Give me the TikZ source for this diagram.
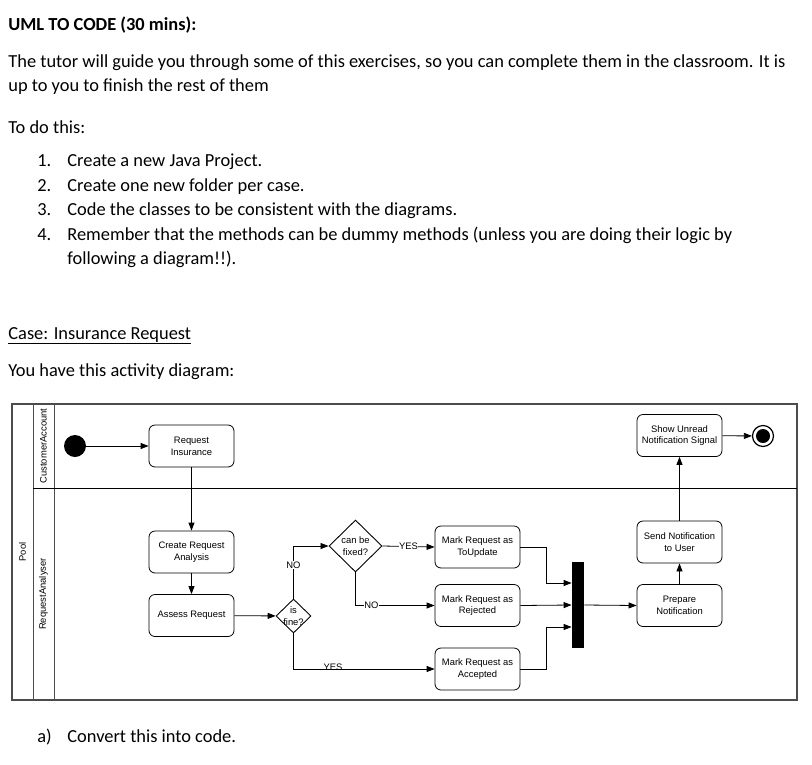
\documentclass[tikz,border=0pt]{standalone}
\usepackage{fontspec}
\setmainfont{Carlito}
\newfontfamily\arialf{Liberation Sans}
\usetikzlibrary{arrows.meta,shapes.geometric}
\tikzset{
  body/.style={anchor=base west, inner sep=0, font=\fontsize{18.4}{22}\selectfont},
  act/.style={draw, rounded corners=6pt, minimum width=85pt, minimum height=42pt, align=center, inner sep=0, font=\arialf\fontsize{9.4}{11.7}\selectfont},
  dia/.style={draw, diamond, inner sep=0, line width=0.9pt},
  small/.style={font=\arialf\fontsize{9.4}{11.7}\selectfont, align=center, inner sep=1pt},
  lbl/.style={font=\arialf\fontsize{9.4}{11}\selectfont, inner sep=0.5pt},
  flow/.style={-{Triangle[length=8pt,width=6pt]}, line width=0.8pt},
  lane/.style={font=\arialf\fontsize{9.4}{11}\selectfont, rotate=90, inner sep=0},
}
\begin{document}
\begin{tikzpicture}[x=1pt,y=-1pt, line width=0.8pt]
\useasboundingbox (0,0) rectangle (812,764);
% text
\node[body, font=\bfseries\fontsize{18.4}{22}\selectfont] (title) at (8,30) {UML TO CODE (30 mins):};
\node[body] (p1) at (8,67) {The tutor will guide you through some of this exercises, so you can complete them in the classroom. It is};
\node[body] (p2) at (8,91) {up to you to finish the rest of them};
\node[body] (todo) at (8,133) {To do this:};
\node[body] (n1) at (37,166) {1.};
\node[body] (t1) at (67,166) {Create a new Java Project.};
\node[body] (n2) at (37,191) {2.};
\node[body] (t2) at (67,191) {Create one new folder per case.};
\node[body] (n3) at (37,215) {3.};
\node[body] (t3) at (67,215) {Code the classes to be consistent with the diagrams.};
\node[body] (n4) at (37,240) {4.};
\node[body] (t4) at (67,240) {Remember that the methods can be dummy methods (unless you are doing their logic by};
\node[body] (t4b) at (67,264) {following a diagram!!).};
\node[body] (case) at (8,339) {\underline{Case: Insurance Request}};
\node[body] (have) at (8,376) {You have this activity diagram:};
\node[body] (na) at (37,742) {a)};
\node[body] (ta) at (67,742) {Convert this into code.};
% frame
\draw[line width=1.2pt, draw=black!70] (12,404) rectangle (797,700);
\draw[line width=1pt, draw=black!70] (33,404) -- (33,700);
\draw[line width=1pt, draw=black!70] (54,404) -- (54,700);
\draw[line width=0.8pt] (33,488) -- (797,488);
\node[lane] (pool) at (22.5,552) {Pool};
\node[lane] (ca) at (43.5,446) {CustomerAccount};
\node[lane] (ra) at (43.5,594) {RequestAnalyser};
% nodes
\node[circle, fill=black, minimum size=22pt, inner sep=0] (init) at (75,446) {};
\node[act] (reqins) at (191.5,446) {Request\\Insurance};
\node[act] (create) at (191.5,552) {Create Request\\Analysis};
\node[act] (assess) at (191.5,615.5) {Assess Request};
\node[dia, minimum width=35pt, minimum height=34pt] (isfine) at (293.5,616) {};
\node[small] (isfinet) at (isfine) {is\\fine?};
\node[dia, minimum width=53pt, minimum height=52pt] (fix) at (355.5,546) {};
\node[small] (fixt) at (fix) {can be\\fixed?};
\node[act] (toupd) at (477.5,547) {Mark Request as\\ToUpdate};
\node[act] (rej) at (477.5,605.5) {Mark Request as\\Rejected};
\node[act] (acc) at (477.5,669) {Mark Request as\\Accepted};
\node[fill=black, minimum width=12pt, minimum height=86pt, inner sep=0] (bar) at (578,605) {};
\node[act] (prep) at (679.5,605.5) {Prepare\\Notification};
\node[act] (send) at (679.5,542) {Send Notification\\to User};
\node[act] (show) at (679.5,435.5) {Show Unread\\Notification Signal};
\node[circle, draw, line width=1.2pt, minimum size=21pt, inner sep=0] (final) at (763,436) {};
\node[circle, fill=black, minimum size=14pt, inner sep=0] (finalin) at (final) {};
% connectors
\draw[flow] (init) -- (reqins);
\draw[flow] (reqins) -- (create);
\draw[flow] (create) -- (assess);
\draw[flow] (assess) -- (isfine);
\draw[flow] (isfine.north) |- (fix.west) node[pos=0.32, lbl, fill=white] {NO};
\draw[flow] (fix.east) -- (toupd.west) node[pos=0.5, lbl, fill=white] {YES};
\draw[flow] (fix.south) |- (rej.west) node[pos=0.6, lbl, fill=white] {NO};
\draw[flow] (isfine.south) |- (acc.west) node[pos=0.64, lbl, yshift=1.5pt] {YES};
\draw[flow] (toupd.east) -- ++(26,0) |- ([yshift=22pt]bar.west);
\draw[flow] (rej.east) -- (bar.west);
\draw[flow] (acc.east) -- ++(26,0) |- ([yshift=-22pt]bar.west);
\draw[flow] (bar.east) -- (prep.west);
\draw[flow] (prep) -- (send);
\draw[flow] (send) -- (show);
\draw[flow] (show) -- (final);
\end{tikzpicture}
\end{document}
